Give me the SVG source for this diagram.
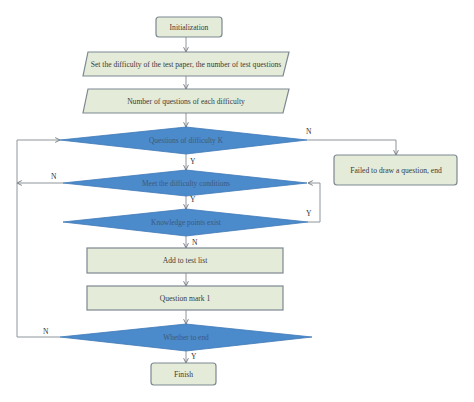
<svg xmlns="http://www.w3.org/2000/svg" width="474" height="402" viewBox="0 0 474 402">
<style>
.box{fill:#e4ecd9;stroke:#7d8891;stroke-width:1.2}
.dia{fill:#4b8acb;stroke:#3f78b6;stroke-width:0.8}
.t{font-family:"Liberation Serif",serif;font-size:7.6px;fill:#3a3a3a;text-anchor:middle}
.dt{font-family:"Liberation Serif",serif;font-size:7.4px;fill:#3c5a80;text-anchor:middle}
.lb{font-family:"Liberation Serif",serif;font-size:7.6px;fill:#333}
.c{fill:none;stroke:#8f969c;stroke-width:1}
</style>
<defs>
<marker id="a" viewBox="0 0 10 10" refX="9" refY="5" markerWidth="6" markerHeight="6" orient="auto">
<path d="M1,1 L9,5 L1,9" fill="none" stroke="#6f767c" stroke-width="1.5"/>
</marker>
</defs>
<rect width="474" height="402" fill="#ffffff"/>
<g id="connectors">
<path class="c" d="M186,37 V52" marker-end="url(#a)"/>
<path class="c" d="M186,76 V89" marker-end="url(#a)"/>
<path class="c" d="M186,113 V127" marker-end="url(#a)"/>
<path class="c" d="M307,140 H396 V155" marker-end="url(#a)"/>
<path class="c" d="M186,154 V170" marker-end="url(#a)"/>
<path class="c" d="M186,196 V209" marker-end="url(#a)"/>
<path class="c" d="M63,183 H17" marker-end="url(#a)"/>
<path class="c" d="M308,222 H320 V183 H308" marker-end="url(#a)"/>
<path class="c" d="M186,236 V248" marker-end="url(#a)"/>
<path class="c" d="M186,273 V286" marker-end="url(#a)"/>
<path class="c" d="M186,310 V324" marker-end="url(#a)"/>
<path class="c" d="M186,351 V363" marker-end="url(#a)"/>
<path class="c" d="M60,337 H17 V140 H60" marker-end="url(#a)"/>
<text class="lb" x="306" y="134">N</text>
<text class="lb" x="190" y="164">Y</text>
<text class="lb" x="51" y="179">N</text>
<text class="lb" x="190" y="202">Y</text>
<text class="lb" x="306" y="216">Y</text>
<text class="lb" x="192" y="245">N</text>
<text class="lb" x="43" y="334">N</text>
<text class="lb" x="191" y="359">Y</text>
</g>
<g id="init">
<rect class="box" x="156" y="17" width="66" height="20" rx="3"/>
<text class="t" x="189" y="29.5">Initialization</text>
</g>
<g id="set">
<polygon class="box" points="88,52 289,52 283,76 83,76"/>
<text class="t" x="186" y="66.5">Set the difficulty of the test paper, the number of test questions</text>
</g>
<g id="num">
<polygon class="box" points="88,89 289,89 283,113 83,113"/>
<text class="t" x="186" y="103.5">Number of questions of each difficulty</text>
</g>
<g id="d1">
<polygon class="dia" points="186,127 307,140 186,154 60,140"/>
<text class="dt" x="186" y="142.5">Questions of difficulty K</text>
</g>
<g id="fail">
<rect class="box" x="334" y="155" width="123" height="30" rx="3"/>
<text class="t" x="396" y="172.5">Failed to draw a question, end</text>
</g>
<g id="d2">
<polygon class="dia" points="186,170 307,183 186,196 63,183"/>
<text class="dt" x="186" y="185.5">Meet the difficulty conditions</text>
</g>
<g id="d3">
<polygon class="dia" points="186,209 308,222 186,236 63,222"/>
<text class="dt" x="186" y="224.5">Knowledge points exist</text>
</g>
<g id="add">
<rect class="box" x="87" y="248" width="196" height="25"/>
<text class="t" x="185" y="263">Add to test list</text>
</g>
<g id="mark">
<rect class="box" x="87" y="286" width="196" height="24"/>
<text class="t" x="185" y="300.5">Question mark 1</text>
</g>
<g id="d4">
<polygon class="dia" points="186,324 312,337 186,351 60,337"/>
<text class="dt" x="186" y="339.5">Whether to end</text>
</g>
<g id="finish">
<rect class="box" x="151" y="363" width="65" height="22" rx="3"/>
<text class="t" x="183.5" y="376.5">Finish</text>
</g>
</svg>
